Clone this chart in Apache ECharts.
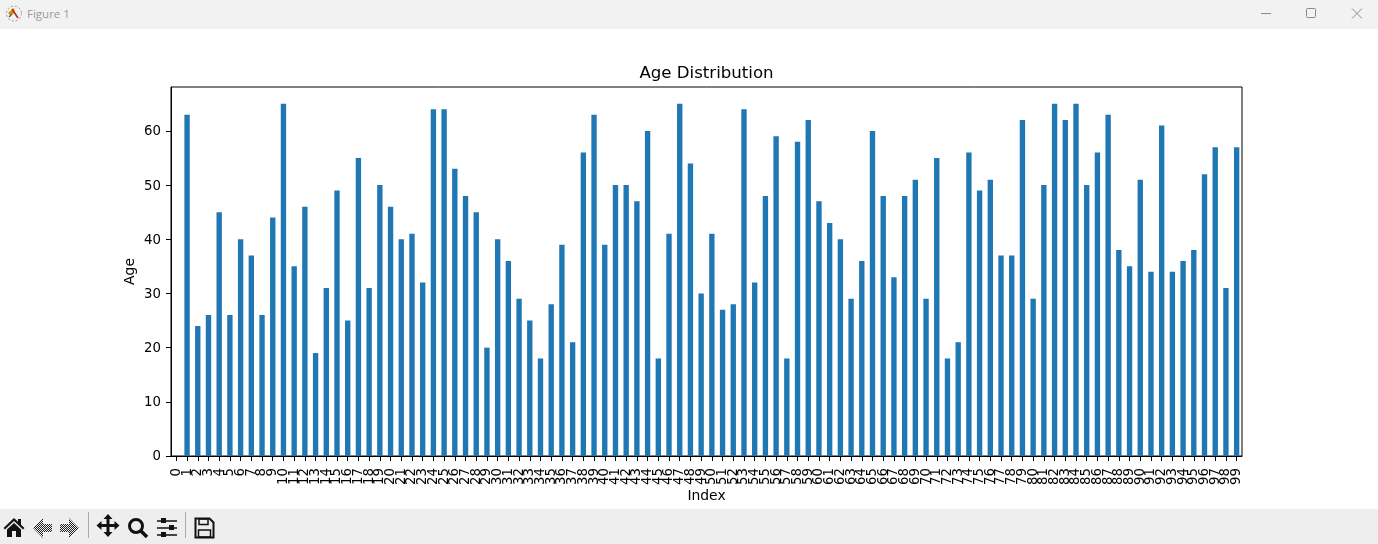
<!DOCTYPE html>
<html>
<head>
<meta charset="utf-8">
<title>Figure 1</title>
<style>
html,body{margin:0;padding:0;background:#fff;width:1378px;height:544px;overflow:hidden}
#chart{position:absolute;left:0;top:0;width:1378px;height:544px}
#titlebar{position:absolute;left:0;top:0;width:1378px;height:29px;background:#f2f2f2;z-index:2}
#titlebar span{position:absolute;left:27px;top:5px;font:11.5px/18px "Open Sans",sans-serif;color:#9a9a9a}
#toolbar{position:absolute;left:0;top:509px;width:1378px;height:35px;background:#eeeeee;z-index:2}
svg{position:absolute;left:0;top:0}
</style>
<script src="https://cdn.jsdelivr.net/npm/echarts@6/dist/echarts.min.js"></script>
</head>
<body>
<div id="chart"></div>
<div id="titlebar"><span>Figure 1</span>
<svg width="1378" height="29" fill="none">
<circle cx="14" cy="13.500" r="7.500" stroke="#999" stroke-dasharray="2 2"/>
<path d="M8 13l6-5 1 5-5 2z" fill="#f08000"/><path d="M12 9l6 9" stroke="#b03010" stroke-width="1.500"/><path d="M9 17l3-3" stroke="#208040" stroke-width="1.500"/>
<path d="M1261 13.500h10" stroke="#8a8a8a"/><rect x="1306.500" y="8.500" width="9" height="9" rx="1" stroke="#8a8a8a"/><path d="M1352 8.500l10 10M1362 8.500l-10 10" stroke="#8a8a8a"/>
</svg></div>
<div id="toolbar">
<svg width="400" height="35">
<defs><pattern id="dither" width="2" height="2" patternUnits="userSpaceOnUse"><rect width="2" height="2" fill="#eeeeee"/><rect width="1" height="1" fill="#222"/><rect x="1" y="1" width="1" height="1" fill="#222"/></pattern></defs>
<path d="M14 9L3.500 19l1.500 1.500L14 12l9 8.500 1.500-1.500-3.500-3.300V10h-3v2.800zM14 14l-7 6.500V28h5v-6h4v6h5v-7.500z" fill="#111"/>
<path d="M33 19L43 9v6h9v8h-9v6z" fill="url(#dither)"/>
<path d="M79 19L69 9v6h-9v8h9v6z" fill="url(#dither)"/>
<path d="M88.500 3v26M185.500 3v26" stroke="#aaa"/>
<path d="M108 8l-4.500 5h3v5h-5v-3l-5 4.500 5 4.500v-3h5v5h-3l4.500 5 4.500-5h-3v-5h5v3l5-4.500-5-4.500v3h-5v-5h3z" transform="translate(0,-3)" fill="#111"/>
<circle cx="136" cy="17" r="6.500" stroke="#111" stroke-width="3" fill="none"/><path d="M141 22l6 6" stroke="#111" stroke-width="3.500"/>
<path d="M157 12h20M157 19h20M157 26h20" stroke="#111" stroke-width="1.500"/><rect x="161" y="9" width="5" height="5" fill="#111"/><rect x="169" y="16" width="5" height="5" fill="#111"/><rect x="161" y="23" width="5" height="5" fill="#111"/>
<path d="M195.500 9.500h14l4 4v15h-18z" stroke="#111" stroke-width="2" fill="none"/><rect x="199" y="10" width="9" height="5.500" stroke="#111" stroke-width="1.500" fill="none"/><rect x="198.500" y="21" width="12" height="7" stroke="#111" stroke-width="1.500" fill="none"/>
</svg></div>
<script>
const categories = ["0","1","2","3","4","5","6","7","8","9","10","11","12","13","14","15","16","17","18","19",
"20","21","22","23","24","25","26","27","28","29","30","31","32","33","34","35","36","37","38","39",
"40","41","42","43","44","45","46","47","48","49","50","51","52","53","54","55","56","57","58","59",
"60","61","62","63","64","65","66","67","68","69","70","71","72","73","74","75","76","77","78","79",
"80","81","82","83","84","85","86","87","88","89","90","91","92","93","94","95","96","97","98","99"];
const ages = [null,63,24,26,45,26,40,37,26,44,65,35,46,19,31,49,25,55,31,50,
46,40,41,32,64,64,53,48,45,20,40,36,29,25,18,28,39,21,56,63,
39,50,50,47,60,18,41,65,54,30,41,27,28,64,32,48,59,18,58,62,
47,43,40,29,36,60,48,33,48,51,29,55,18,21,56,49,51,37,37,62,
29,50,65,62,65,50,56,63,38,35,51,34,61,34,36,38,52,57,31,57];
const yTicks = [0,10,20,30,40,50,60];
const titleText = "Age Distribution";
const xLabel = "Index";
const yLabel = "Age";
const font = "DejaVu Sans";

const chart = echarts.init(document.getElementById('chart'), null, {renderer:'canvas'});
chart.setOption({
  animation:false,
  backgroundColor:'#fff',
  title:{text:titleText,left:701.5,top:60,textAlign:'center',textStyle:{fontFamily:font,fontSize:16.6,fontWeight:'normal',color:'#000'}},
  grid:{left:171,right:136,top:87,bottom:88,show:true,borderColor:'#000',borderWidth:1,backgroundColor:'transparent',outerBoundsMode:'none'},
  xAxis:{type:'category',data:categories,name:xLabel,nameLocation:'middle',nameGap:33,nameMoveOverlap:false,
    nameTextStyle:{fontFamily:font,fontSize:13.9,color:'#000'},
    axisLine:{show:true,lineStyle:{color:'#000',width:1}},
    axisTick:{show:true,alignWithLabel:true,length:5,lineStyle:{color:'#000',width:1}},
    axisLabel:{interval:0,rotate:90,margin:12,fontFamily:font,fontSize:13.3,color:'#000',hideOverlap:false},
    splitLine:{show:false}},
  yAxis:{type:'value',min:0,max:68.1,name:yLabel,nameLocation:'middle',nameGap:34,nameMoveOverlap:false,
    nameTextStyle:{fontFamily:font,fontSize:13.9,color:'#000'},
    axisLine:{show:true,lineStyle:{color:'#000',width:1}},
    axisTick:{show:true,length:5,lineStyle:{color:'#000',width:1},customValues:yTicks},
    axisLabel:{margin:10,color:'#000',customValues:yTicks,formatter:'{a|{value}}',
      rich:{a:{fontFamily:font,fontSize:13.3,color:'#000',padding:[2,0,0,0]}}},
    splitLine:{show:false}},
  series:[{type:'bar',data:ages,barWidth:'50%',itemStyle:{color:'#1f77b4'}}]
});
</script>
</body>
</html>
